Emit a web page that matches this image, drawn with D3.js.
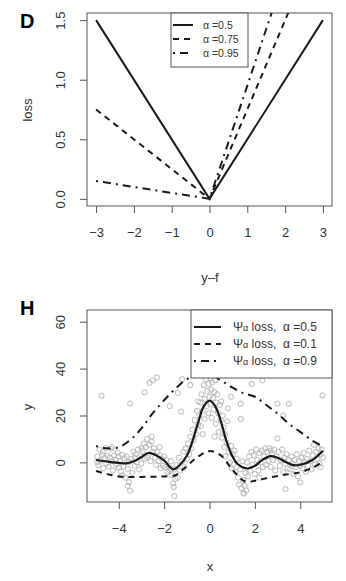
<!DOCTYPE html>
<html><head><meta charset="utf-8">
<script src="https://cdn.jsdelivr.net/npm/d3@7"></script>
<style>
body{margin:0;background:#fff}
svg{display:block}
text{font-family:"Liberation Sans",Arial,sans-serif;white-space:pre}
</style>
</head><body>
<script>
// ---------- Panel D data ----------
const lossX = [-3, 0, 3];
const loss05 = [1.5, 0, 1.5];
const loss075 = [0.75, 0, 2.25];
const loss095 = [0.15, 0, 2.85];
const dXTicks = [-3, -2, -1, 0, 1, 2, 3];
const dYTicks = [0, 0.5, 1, 1.5];
const dYLabels = ["0.0", "0.5", "1.0", "1.5"];
const dLegend = ["\u03b1 =0.5", "\u03b1 =0.75", "\u03b1 =0.95"];

// ---------- Panel H data ----------
const hXTicks = [-4, -2, 0, 2, 4];
const hYTicks = [0, 20, 40, 60];
const hLegendAlpha = ["0.5", "0.1", "0.9"];

const solidX = [-5, -4.5, -4, -3.66, -3.3, -3, -2.7, -2.4, -2, -1.6, -1.3, -1, -0.75, -0.5, -0.25, 0, 0.25, 0.5, 0.75, 1, 1.25, 1.65, 2, 2.35, 2.7, 3, 3.35, 3.7, 4, 4.5, 5];
const solidY = [1.0, 0.3, -0.2, -0.4, 0.6, 2.3, 4.0, 3.3, 0.8, -3.0, -1.0, 2.8, 9.0, 17.0, 24.0, 26.3, 24.0, 17.5, 9.0, 2.8, -0.8, -2.6, -1.5, 1.2, 2.7, 2.0, 0.2, -1.2, -1.0, 0.8, 5.0];

const dashX = [-5, -4.5, -4, -3.5, -3, -2.5, -2, -1.5, -1, -0.5, 0, 0.5, 1, 1.6, 2, 2.5, 3, 3.5, 4, 4.5, 5];
const dashY = [-3.7, -5.0, -6.0, -6.2, -6.2, -6.1, -6.0, -5.5, -1.5, 2.5, 4.8, 3.0, -3.0, -8.3, -7.8, -6.8, -5.8, -5.0, -4.2, -2.5, 0.3];

const ddX = [-5, -4.5, -4, -3.5, -3, -2.5, -2, -1.5, -1, -0.5, 0, 0.5, 1, 1.5, 2, 2.5, 3, 3.5, 4, 4.5, 5];
const ddY = [7.0, 6.0, 6.5, 9.5, 14.5, 21.0, 26.5, 31.5, 35.5, 37.0, 37.5, 35.0, 32.0, 29.5, 28.0, 24.5, 20.8, 16.5, 13.0, 9.5, 6.7];

const scatterPts = [
[-4.95,2.5],[-4.9,-1.2],[-4.85,5.5],[-4.8,0.8],[-4.76,28.4],[-4.72,3.2],[-4.68,-2.5],[-4.62,1.8],[-4.58,6.2],[-4.55,-0.5],[-4.5,2.8],[-4.95,0.2],[-4.7,4.5],
[-4.45,-1.8],[-4.4,2.0],[-4.35,5.8],[-4.3,0.5],[-4.25,-3.5],[-4.2,3.0],[-4.15,1.2],[-4.1,-0.8],[-4.05,4.2],[-4.0,-2.2],[-4.0,2.5],[-4.3,6.5],
[-3.95,0.5],[-3.9,-4.0],[-3.85,3.2],[-3.8,-1.5],[-3.75,1.8],[-3.7,-6.5],[-3.65,2.5],[-3.6,-2.8],[-3.55,-8.5],[-3.5,-12.1],[-3.55,0.2],[-3.5,25.1],[-3.6,-10.0],[-3.85,-5.5],
[-3.45,1.5],[-3.4,-4.5],[-3.35,4.5],[-3.3,-1.5],[-3.25,3.5],[-3.2,0.0],[-3.15,5.5],[-3.1,-3.0],[-3.05,2.5],[-3.0,6.0],[-3.0,-0.5],[-3.3,2.0],
[-2.95,5.0],[-2.9,8.0],[-2.86,29.9],[-2.85,1.5],[-2.8,6.5],[-2.75,10.0],[-2.7,3.0],[-2.65,7.5],[-2.64,33.9],[-2.6,0.5],[-2.55,9.0],[-2.5,35.0],[-2.5,4.5],[-2.55,11.0],[-2.75,2.0],
[-2.45,6.0],[-2.4,2.0],[-2.32,36.2],[-2.35,-1.0],[-2.3,4.5],[-2.25,0.5],[-2.2,3.0],[-2.15,-2.5],[-2.1,1.5],[-2.05,-1.5],[-2.0,2.5],[-2.2,6.5],
[-1.95,-2.0],[-1.9,1.0],[-1.85,-4.0],[-1.8,-1.5],[-1.76,24.0],[-1.75,-3.5],[-1.7,0.5],[-1.65,-5.5],[-1.6,-9.0],[-1.58,-10.5],[-1.55,-14.4],[-1.55,-3.0],[-1.5,-7.0],[-1.7,-2.8],
[-1.45,-1.0],[-1.4,-6.5],[-1.35,2.0],[-1.3,-3.5],[-1.25,21.6],[-1.21,35.5],[-1.2,0.5],[-1.15,4.5],[-1.1,-2.0],[-1.05,6.0],[-1.0,1.5],[-1.4,29.6],
[-0.95,8.0],[-0.9,3.5],[-0.85,11.0],[-0.8,6.0],[-0.75,14.0],[-0.7,9.5],[-0.65,18.0],[-0.6,12.0],[-0.55,22.0],[-0.5,16.0],[-0.5,26.0],[-0.85,33.0],
[-0.45,20.0],[-0.4,25.5],[-0.38,15.5],[-0.35,29.0],[-0.3,22.0],[-0.25,33.0],[-0.22,18.5],[-0.2,27.0],[-0.15,35.5],[-0.12,24.0],[-0.1,30.5],[-0.05,21.0],[-0.03,33.5],[0.0,28.0],[-0.3,12.0],[-0.18,38.0],
[0.03,36.0],[0.05,25.0],[0.08,31.0],[0.1,19.0],[0.12,34.0],[0.15,27.5],[0.18,22.5],[0.2,30.0],[0.25,35.0],[0.28,16.5],[0.3,25.5],[0.35,29.0],[0.38,21.0],[0.4,13.0],[0.45,24.5],[0.5,18.0],[0.22,11.0],
[0.52,26.0],[0.55,10.5],[0.58,20.0],[0.62,15.0],[0.65,6.5],[0.68,12.0],[0.7,2.5],[0.75,8.5],[0.78,17.5],[0.81,23.0],[0.85,4.5],[0.9,0.0],[0.95,28.0],[0.95,7.0],[0.98,-2.5],
[1.02,3.5],[1.05,-1.0],[1.1,5.0],[1.15,-4.0],[1.2,1.5],[1.25,-6.5],[1.3,-9.5],[1.35,-3.0],[1.38,25.0],[1.38,18.5],[1.4,-11.0],[1.45,0.5],[1.48,-7.5],[1.5,-13.0],
[1.52,-13.3],[1.55,-10.0],[1.58,-4.5],[1.62,-12.0],[1.65,0.0],[1.7,-6.0],[1.75,2.5],[1.8,-3.5],[1.86,33.5],[1.85,4.5],[1.9,-1.0],[1.95,3.0],[2.0,-5.0],
[2.05,5.5],[2.1,1.0],[2.15,-3.5],[2.2,4.0],[2.25,0.0],[2.3,5.0],[2.33,35.0],[2.35,-2.0],[2.4,2.5],[2.45,6.0],[2.5,-1.0],[2.2,-6.5],
[2.55,4.5],[2.6,0.5],[2.65,6.0],[2.7,-2.0],[2.75,3.5],[2.8,1.0],[2.85,5.5],[2.9,-3.5],[2.95,2.5],[2.99,25.0],[2.99,10.2],[2.7,5.0],
[3.05,4.5],[3.1,-1.5],[3.15,1.0],[3.2,5.5],[3.25,-4.0],[3.3,2.0],[3.35,-11.4],[3.35,-0.5],[3.4,3.5],[3.45,-2.5],[3.5,25.0],[3.5,1.0],[3.25,20.0],
[3.55,-3.0],[3.6,2.5],[3.65,-0.5],[3.7,-5.0],[3.75,1.0],[3.8,-2.0],[3.85,3.5],[3.9,-6.0],[3.95,0.5],[4.0,-8.6],[4.0,-1.5],
[4.05,2.0],[4.1,-2.5],[4.15,4.0],[4.2,0.0],[4.25,-4.0],[4.3,1.5],[4.35,-1.5],[4.4,5.0],[4.45,0.5],[4.5,-3.0],
[4.55,3.0],[4.6,7.5],[4.65,-1.0],[4.7,4.5],[4.75,1.5],[4.8,6.0],[4.85,-0.5],[4.9,3.5],[4.95,5.5],[4.98,28.6],[5.0,2.0],[4.9,-2.0]
];

// ---------- drawing ----------
const W = 346, H = 581;
const svg = d3.select("body").append("svg").attr("width", W).attr("height", H);
const INK = "#1a1a1a", AX = "#555", TXT = "#333";
const DASH = "6,5", DASHDOT = "2,5,8,5";

function panel(opts) {
  const {x, y, xTicks, yTicks, yLabels, xFmt, id} = opts;
  const g = svg.append("g");
  const [x0, x1] = x.range(), [y0, y1] = y.range();
  g.append("clipPath").attr("id", id).append("rect")
    .attr("x", x0).attr("y", y1).attr("width", x1 - x0).attr("height", y0 - y1);
  const xa = g.append("g").attr("transform", `translate(0,${y0})`)
    .call(d3.axisBottom(x).tickValues(xTicks).tickSize(7).tickPadding(15).tickFormat(xFmt));
  xa.select(".domain").remove();
  xa.selectAll("line").attr("stroke", AX);
  xa.selectAll("text").attr("fill", TXT).style("font-size", "13px")
    .style("font-family", '"Liberation Sans",Arial,sans-serif');
  const ya = g.append("g").attr("transform", `translate(${x0},0)`)
    .call(d3.axisLeft(y).tickValues(yTicks).tickSize(7).tickFormat((d, i) => yLabels[i]));
  ya.select(".domain").remove();
  ya.selectAll("line").attr("stroke", AX);
  ya.selectAll("text").attr("fill", TXT).style("font-size", "13px")
    .style("font-family", '"Liberation Sans",Arial,sans-serif')
    .attr("x", null).attr("dy", null).attr("text-anchor", "middle")
    .attr("transform", "translate(-22,0) rotate(-90)");
  g.append("rect").attr("x", x0).attr("y", y1).attr("width", x1 - x0).attr("height", y0 - y1)
    .attr("fill", "none").attr("stroke", AX).attr("stroke-width", 1);
  const plot = g.append("g").attr("clip-path", `url(#${id})`);
  return {g, plot};
}

const minus = d => d3.format("d")(d).replace("-", "\u2212");

// ===== Panel D =====
const xD = d3.scaleLinear().domain([-3.24, 3.24]).range([87, 332]);
const yD = d3.scaleLinear().domain([-0.06, 1.56]).range([206, 13]);
const pD = panel({x: xD, y: yD, xTicks: dXTicks, yTicks: dYTicks, yLabels: dYLabels, xFmt: minus, id: "clipD"});
const lineD = d3.line().x((d, i) => xD(lossX[i])).y(d => yD(d));
[[loss05, null], [loss075, DASH], [loss095, DASHDOT]].forEach(([s, dash]) => {
  pD.plot.append("path").attr("d", lineD(s)).attr("fill", "none").attr("stroke", INK)
    .attr("stroke-width", 2).attr("stroke-dasharray", dash);
});
const lgD = svg.append("g");
lgD.append("rect").attr("x", 171).attr("y", 13).attr("width", 77).attr("height", 54)
  .attr("fill", "#fff").attr("stroke", AX);
[null, DASH, DASHDOT].forEach((dash, i) => {
  const yy = 25 + i * 14;
  lgD.append("line").attr("x1", 173).attr("x2", 193).attr("y1", yy).attr("y2", yy)
    .attr("stroke", INK).attr("stroke-width", 2).attr("stroke-dasharray", dash);
  lgD.append("text").attr("x", 203).attr("y", yy + 4).attr("fill", TXT)
    .style("font-size", "10.5px").text(dLegend[i]);
});
svg.append("text").attr("x", 20).attr("y", 28).style("font-size", "20px").style("font-weight", "bold")
  .attr("fill", "#000").text("D");
svg.append("text").attr("x", 210).attr("y", 282).attr("text-anchor", "middle").attr("fill", TXT)
  .style("font-size", "13px").text("y\u2013f");
svg.append("text").attr("transform", "translate(32,110) rotate(-90)").attr("text-anchor", "middle")
  .attr("fill", TXT).style("font-size", "13px").text("loss");

// ===== Panel H =====
const xH = d3.scaleLinear().domain([-5.4, 5.4]).range([87, 332]);
const yH = d3.scaleLinear().domain([-16.9, 65]).range([502, 310]);
const pH = panel({x: xH, y: yH, xTicks: hXTicks, yTicks: hYTicks, yLabels: hYTicks.map(String), xFmt: minus, id: "clipH"});
pH.plot.selectAll("circle").data(scatterPts).join("circle")
  .attr("cx", d => xH(d[0])).attr("cy", d => yH(d[1])).attr("r", 2.6)
  .attr("fill", "none").attr("stroke", "#b8b8b8").attr("stroke-width", 1);
const mk = (xs, ys) => d3.line().curve(d3.curveCatmullRom.alpha(0.5)).x((d, i) => xH(xs[i])).y(d => yH(d))(ys);
pH.plot.append("path").attr("d", mk(dashX, dashY)).attr("fill", "none").attr("stroke", INK)
  .attr("stroke-width", 2).attr("stroke-dasharray", DASH);
pH.plot.append("path").attr("d", mk(ddX, ddY)).attr("fill", "none").attr("stroke", INK)
  .attr("stroke-width", 2).attr("stroke-dasharray", DASHDOT);
pH.plot.append("path").attr("d", mk(solidX, solidY)).attr("fill", "none").attr("stroke", INK)
  .attr("stroke-width", 2.2);
const lgH = svg.append("g");
lgH.append("rect").attr("x", 191).attr("y", 310).attr("width", 141).attr("height", 68)
  .attr("fill", "#fff").attr("stroke", AX);
[null, DASH, DASHDOT].forEach((dash, i) => {
  const yy = 327 + i * 17;
  lgH.append("line").attr("x1", 194).attr("x2", 221).attr("y1", yy).attr("y2", yy)
    .attr("stroke", INK).attr("stroke-width", 2).attr("stroke-dasharray", dash);
  const t = lgH.append("text").attr("x", 233).attr("y", yy + 4).attr("fill", TXT)
    .attr("xml:space", "preserve").style("font-size", "12px");
  t.append("tspan").text("\u03a8");
  t.append("tspan").style("font-size", "9px").text("\u03b1");
  t.append("tspan").text(" loss,  \u03b1 =" + hLegendAlpha[i]);
});
svg.append("text").attr("x", 20).attr("y", 315).style("font-size", "20px").style("font-weight", "bold")
  .attr("fill", "#000").text("H");
svg.append("text").attr("x", 210).attr("y", 571).attr("text-anchor", "middle").attr("fill", TXT)
  .style("font-size", "13px").text("x");
svg.append("text").attr("transform", "translate(32,407) rotate(-90)").attr("text-anchor", "middle")
  .attr("fill", TXT).style("font-size", "13px").text("y");
</script>
</body></html>
